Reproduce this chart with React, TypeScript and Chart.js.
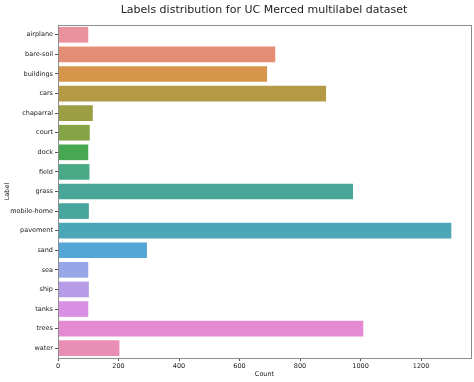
import React, { useEffect, useRef } from "react";
import { Chart, registerables } from "chart.js";

Chart.register(...registerables);

const labels = [
  "airplane", "bare-soil", "buildings", "cars", "chaparral", "court", "dock", "field",
  "grass", "mobile-home", "pavement", "sand", "sea", "ship", "tanks", "trees", "water",
];
const counts = [100, 718, 691, 886, 115, 105, 100, 104, 975, 102, 1300, 294, 100, 102, 100, 1009, 203];
const colors = [
  "#e9919c", "#e58e76", "#d5954b", "#b59a45", "#9c9e44", "#85a445", "#47a852", "#49a987",
  "#4aa698", "#48a59e", "#4ba6b8", "#53a6d6", "#96a6e6", "#b69be6", "#d98fe3", "#e38ad3", "#e98fb5",
];
const xTicks = [0, 200, 400, 600, 800, 1000, 1200];
const titleText = "Labels distribution for UC Merced multilabel dataset";

const FONT = "'DejaVu Sans', sans-serif";

export default function App() {
  const ref = useRef<HTMLCanvasElement | null>(null);
  useEffect(() => {
    document.body.style.margin = "0";
    const frame = {
      id: "frame",
      afterDatasetsDraw(chart: any) {
        const { ctx, chartArea: a } = chart;
        ctx.save();
        ctx.strokeStyle = "#8c8c8c";
        ctx.lineWidth = 1;
        ctx.strokeRect(Math.round(a.left) + 0.5, Math.round(a.top) + 0.5, Math.round(a.right - a.left), Math.round(a.bottom - a.top));
        ctx.fillStyle = "#222";
        ctx.font = `11px ${FONT}`;
        ctx.textAlign = "center";
        ctx.textBaseline = "middle";
        ctx.fillText(titleText, 264, 10);
        ctx.restore();
      },
    };
    const chart = new Chart(ref.current!, {
      type: "bar",
      data: {
        labels,
        datasets: [
          {
            data: counts,
            backgroundColor: colors,
            borderWidth: 0,
            categoryPercentage: 0.8,
            barPercentage: 1,
          },
        ],
      },
      options: {
        indexAxis: "y",
        animation: false,
        responsive: false,
        maintainAspectRatio: false,
        layout: { padding: { left: 3, right: 3, top: 25, bottom: 4 } },
        plugins: { legend: { display: false }, tooltip: { enabled: false }, title: { display: false } },
        scales: {
          x: {
            min: 0,
            max: 1365,
            afterBuildTicks: (s: any) => {
              s.ticks = xTicks.map((v) => ({ value: v }));
            },
            afterFit: (s: any) => {
              s.height = 20;
            },
            grid: { display: true, drawOnChartArea: false, drawTicks: true, tickLength: 3, color: "#555" },
            border: { display: false },
            ticks: {
              color: "#222",
              font: { family: FONT, size: 6.5 },
              padding: 1,
              maxRotation: 0,
              callback: (v: any) => String(v),
            },
            title: { display: true, text: "Count", color: "#222", font: { family: FONT, size: 6.5 }, padding: { top: 1, bottom: 0 } },
          },
          y: {
            afterFit: (s: any) => {
              s.width = 55;
            },
            grid: { display: true, drawOnChartArea: false, drawTicks: true, tickLength: 3, color: "#555", offset: false },
            border: { display: false },
            ticks: { color: "#222", font: { family: FONT, size: 6.5 }, padding: 2, autoSkip: false },
            title: { display: true, text: "Label", color: "#222", font: { family: FONT, size: 6.5 }, padding: { top: 0, bottom: 0 } },
          },
        },
      },
      plugins: [frame],
    });
    return () => chart.destroy();
  }, []);
  return (
    <div style={{ width: 474, height: 382 }}>
      <canvas ref={ref} width={474} height={382} style={{ display: "block" }} />
    </div>
  );
}
